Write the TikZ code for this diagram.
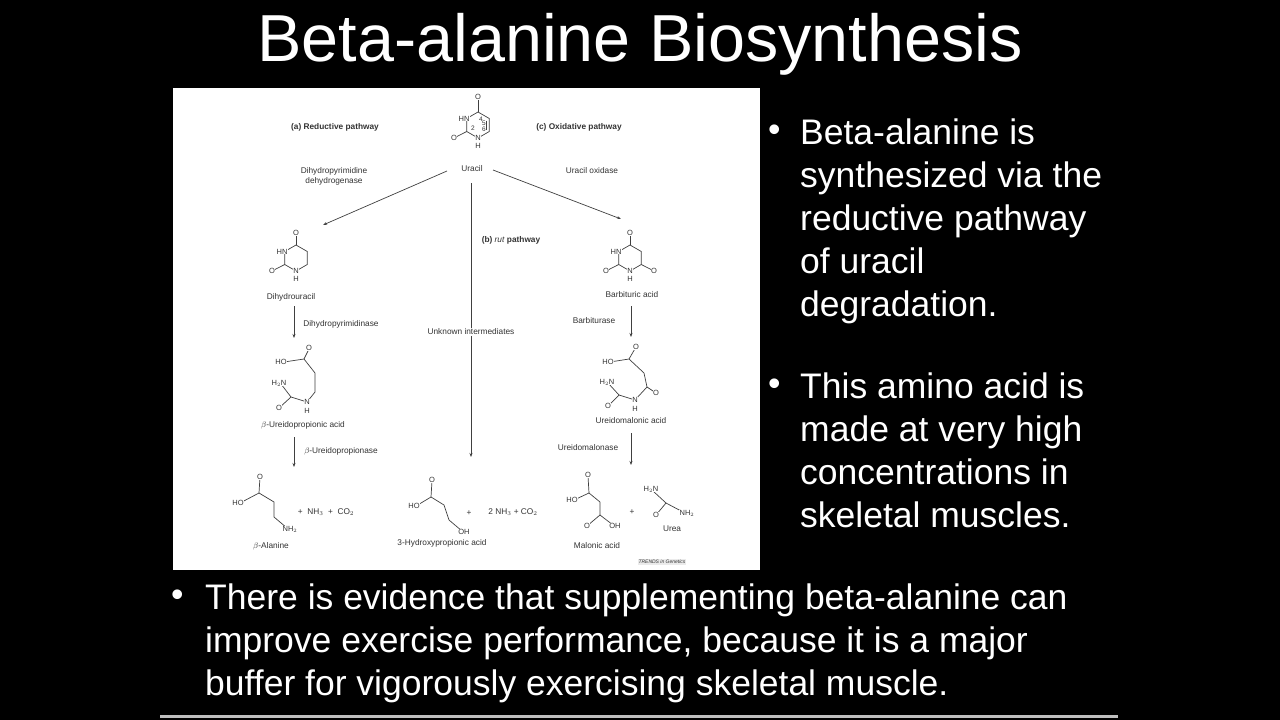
\documentclass[tikz,border=0pt]{standalone}
\usepackage{fontspec}
\setmainfont{Liberation Sans}
\usetikzlibrary{arrows.meta}
\tikzset{
  slidetext/.style={text=white, anchor=west, font=\fontsize{35.5}{43}\selectfont, inner sep=0},
  figtext/.style={font=\fontsize{8.3}{10}\selectfont, text=black!80, inner sep=0.5pt},
  figbold/.style={figtext, font=\fontsize{8.3}{10}\selectfont\bfseries},
  bond/.style={black!75, line width=0.7pt},
  atom/.style={font=\fontsize{7.5}{8}\selectfont, text=black!80, fill=white, inner sep=0.3pt},
  react/.style={black!75, line width=0.7pt, -{Stealth[length=4pt,width=3pt]}}
}
\begin{document}
\begin{tikzpicture}[x=1pt,y=-1pt]
    \fill[black] (0,0) rectangle (1280,720);
    \useasboundingbox (0,0) rectangle (1280,720);
    % title
    \node[text=white, font=\fontsize{66.5}{72}\selectfont] (title) at (640,44) {Beta-alanine Biosynthesis};
    
    % figure panel
    \fill[white] (173,88) rectangle (760,570);
    \node[figbold] (redlab) at (335,127) {(a) Reductive pathway};
    \node[figbold] (oxlab) at (579,127) {(c) Oxidative pathway};
    \node[figbold] (rutlab) at (511,240) {(b) \textit{\mdseries rut} pathway};
    \node[figtext] (uracil) at (472,169) {Uracil};
    \node[figtext, align=center] (dpd) at (334,176) {Dihydropyrimidine\\dehydrogenase};
    \node[figtext] (uox) at (592,171) {Uracil oxidase};
    \node[figtext] (dhu) at (291,297) {Dihydrouracil};
    \node[figtext] (barb) at (632,295) {Barbituric acid};
    \node[figtext] (dhpase) at (341,324) {Dihydropyrimidinase};
    \node[figtext] (barbase) at (594,321) {Barbiturase};
    \node[figtext] (unknown) at (471,332) {Unknown intermediates};
    \node[figtext] (bup) at (303,425) {$\beta$-Ureidopropionic acid};
    \node[figtext] (uma) at (631,421) {Ureidomalonic acid};
    \node[figtext] (bupase) at (341,451) {$\beta$-Ureidopropionase};
    \node[figtext] (umase) at (588,448) {Ureidomalonase};
    \node[figtext] (bala) at (271,546) {$\beta$-Alanine};
    \node[figtext] (hpa) at (442,543) {3-Hydroxypropionic acid};
    \node[figtext] (mal) at (597,546) {Malonic acid};
    \node[figtext] (urea) at (672,529) {Urea};
    \node[figtext] (prodA) at (326,512) {+\ \ NH$_3$\ \ +\ \ CO$_2$};
    \node[figtext] (plusB) at (469,513) {+};
    \node[figtext] (prodB) at (513,512) {2 NH$_3$ + CO$_2$};
    \node[figtext] (plusC) at (632,512) {+};
    \node[figtext, font=\fontsize{5}{6}\selectfont\itshape, fill=black!8, inner sep=1pt] (trends) at (662,562) {TRENDS in Genetics};
    
    % reaction arrows
    \coordinate (la0) at (447,171); \coordinate (la1) at (323,225);
    \coordinate (ra0) at (493,170); \coordinate (ra1) at (621,219);
    \draw[react] (la0) -- (la1);
    \draw[react] (ra0) -- (ra1);
    \draw[bond] (471,183) -- (unknown.north);
    \draw[react] (unknown.south) -- (471,457);
    \draw[react] (294,306) -- (294,338);
    \draw[react] (631,306) -- (631,337);
    \draw[react] (294,437) -- (294,467);
    \draw[react] (631,433) -- (631,465);
    
    % uracil ring
    \begin{scope}[shift={(478,125)}]
      \draw[bond] (0,-13) -- (11.3,-6.5) -- (11.3,6.5) -- (0,13) -- (-11.3,6.5) -- (-11.3,-6.5) -- cycle;
      \draw[bond] (8.8,-4.5) -- (8.8,4.5);
      \draw[bond] (0,-13) -- (0,-26); \draw[bond] (-11.3,6.5) -- (-22,12);
      \node[atom] at (0,-28) {O}; \node[atom] at (-14,-6.5) {HN};
      \node[atom] at (0,13) {N}; \node[atom] at (0,21) {H}; \node[atom] at (-24,13) {O};
      \node[figtext, font=\fontsize{6.5}{7}\selectfont] at (3,-6) {4};
      \node[figtext, font=\fontsize{6.5}{7}\selectfont] at (6,-2) {5};
      \node[figtext, font=\fontsize{6.5}{7}\selectfont] at (6,4) {6};
      \node[figtext, font=\fontsize{6.5}{7}\selectfont] at (-5,3) {2};
    \end{scope}
    % dihydrouracil ring
    \begin{scope}[shift={(296,258)}]
      \draw[bond] (0,-13) -- (11.3,-6.5) -- (11.3,6.5) -- (0,13) -- (-11.3,6.5) -- (-11.3,-6.5) -- cycle;
      \draw[bond] (0,-13) -- (0,-24); \draw[bond] (-11.3,6.5) -- (-22,12);
      \node[atom] at (0,-25) {O}; \node[atom] at (-14,-6.5) {HN};
      \node[atom] at (0,13) {N}; \node[atom] at (0,21) {H}; \node[atom] at (-24,13) {O};
    \end{scope}
    % barbituric acid ring
    \begin{scope}[shift={(630,258)}]
      \draw[bond] (0,-13) -- (11.3,-6.5) -- (11.3,6.5) -- (0,13) -- (-11.3,6.5) -- (-11.3,-6.5) -- cycle;
      \draw[bond] (0,-13) -- (0,-24); \draw[bond] (-11.3,6.5) -- (-22,12); \draw[bond] (11.3,6.5) -- (22,12);
      \node[atom] at (0,-25) {O}; \node[atom] at (-14,-6.5) {HN};
      \node[atom] at (0,13) {N}; \node[atom] at (0,21) {H};
      \node[atom] at (-24,13) {O}; \node[atom] at (24,13) {O};
    \end{scope}
    
    % beta-ureidopropionic acid
    \draw[bond] (284,362) -- (304,359) -- (309,349); \draw[bond] (304,359) -- (315,373) -- (315,392) -- (307,402) -- (291,397) -- (279,408);
    \draw[bond] (291,397) -- (281,384);
    \node[atom] at (281,362) {HO}; \node[atom] at (309,348) {O}; \node[atom] at (307,402) {N};
    \node[atom] at (307,411) {H}; \node[atom] at (279,408) {O}; \node[atom] at (279,383) {H$_2$N};
    % ureidomalonic acid
    \draw[bond] (610,362) -- (629,359) -- (636,347); \draw[bond] (629,359) -- (644,373) -- (647,387) -- (656,393);
    \draw[bond] (647,387) -- (635,400) -- (619,395) -- (608,406); \draw[bond] (619,395) -- (608,383);
    \node[atom] at (608,362) {HO}; \node[atom] at (636,347) {O}; \node[atom] at (656,393) {O};
    \node[atom] at (635,400) {N}; \node[atom] at (635,409) {H}; \node[atom] at (608,406) {O}; \node[atom] at (607,382) {H$_2$N};
    
    % beta-alanine
    \draw[bond] (240,503) -- (259,493) -- (260,477); \draw[bond] (259,493) -- (274,502) -- (274,517) -- (287,528);
    \node[atom] at (238,503) {HO}; \node[atom] at (260,477) {O}; \node[atom] at (290,529) {NH$_2$};
    % 3-hydroxypropionic acid
    \draw[bond] (416,506) -- (431,497) -- (432,481); \draw[bond] (431,497) -- (444,505) -- (449,520) -- (462,531);
    \node[atom] at (414,506) {HO}; \node[atom] at (432,480) {O}; \node[atom] at (464,532) {OH};
    % malonic acid
    \draw[bond] (574,500) -- (589,493) -- (588,476); \draw[bond] (589,493) -- (600,502) -- (600,515) -- (587,526);
    \draw[bond] (600,515) -- (613,525);
    \node[atom] at (572,500) {HO}; \node[atom] at (588,475) {O}; \node[atom] at (587,526) {O}; \node[atom] at (615,526) {OH};
    % urea
    \draw[bond] (653,491) -- (666,503) -- (656,515); \draw[bond] (666,503) -- (683,512);
    \node[atom] at (651,489) {H$_2$N}; \node[atom] at (656,515) {O}; \node[atom] at (687,513) {NH$_2$};
    
    % bullets
    \node[slidetext] (b1) at (768,133) {•};
    \node[slidetext, align=left, anchor=north west] (t1) at (800,119) {Beta-alanine is\\synthesized via the\\reductive pathway\\of uracil\\degradation.};
    \node[slidetext] (b2) at (768,387) {•};
    \node[slidetext, align=left, anchor=north west] (t2) at (800,373) {This amino acid is\\made at very high\\concentrations in\\skeletal muscles.};
    \node[slidetext] (b3) at (171,598) {•};
    \node[slidetext, align=left, anchor=north west] (t3) at (205,584) {There is evidence that supplementing beta-alanine can\\improve exercise performance, because it is a major\\buffer for vigorously exercising skeletal muscle.};
    \draw[black!25, line width=3pt] (160,716) -- (1118,716);
\end{tikzpicture}
\end{document}
